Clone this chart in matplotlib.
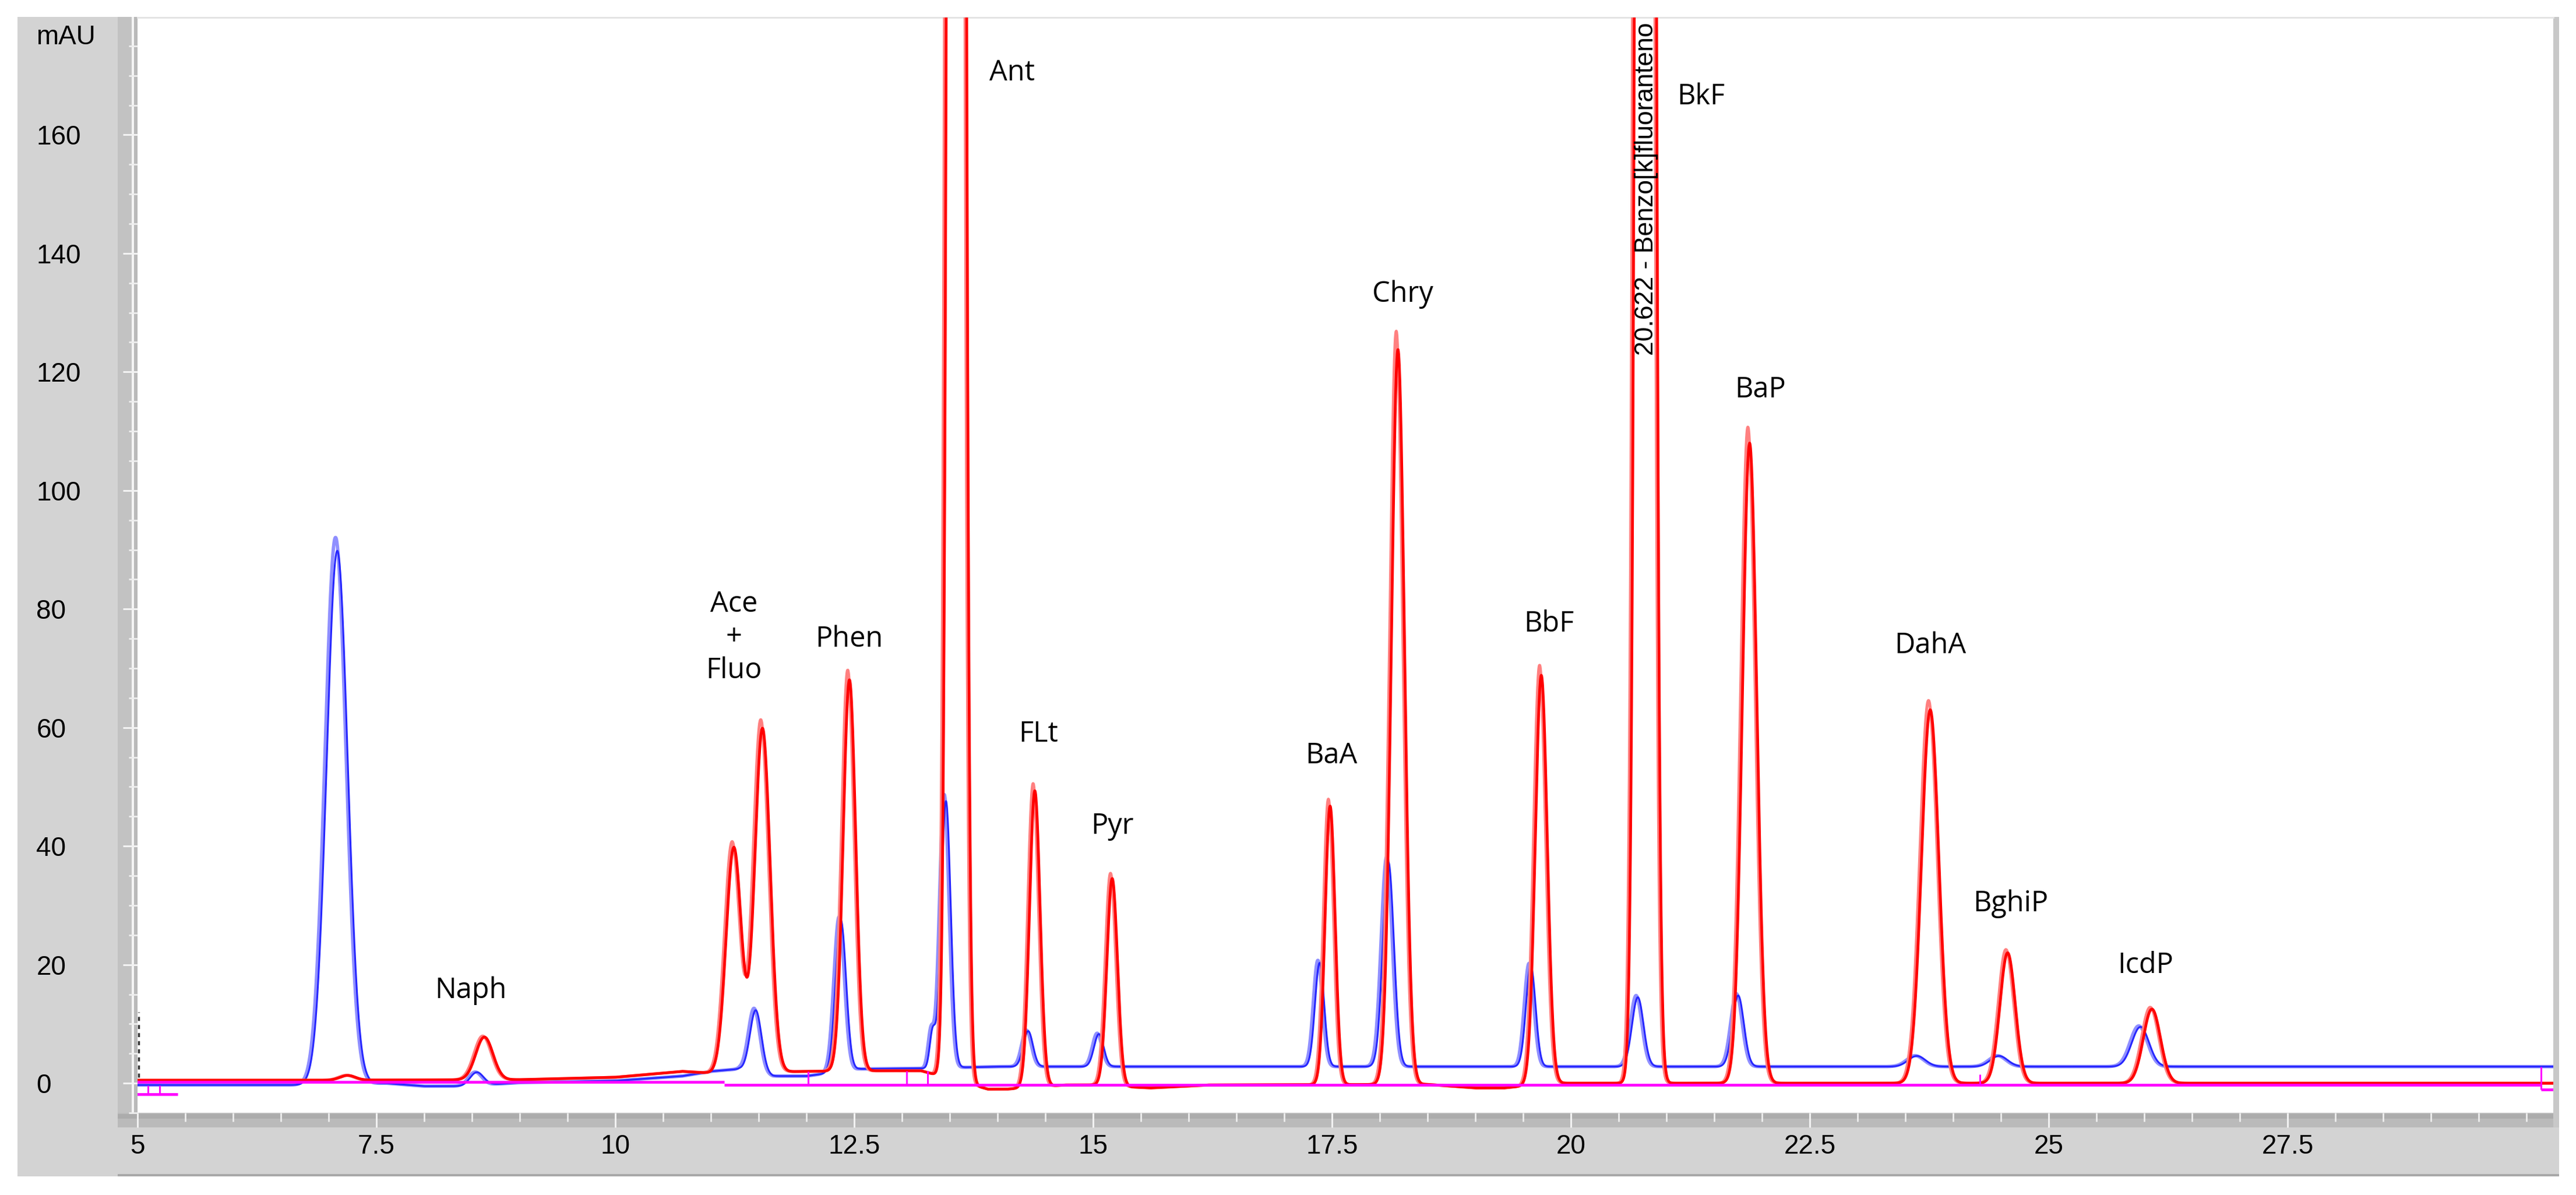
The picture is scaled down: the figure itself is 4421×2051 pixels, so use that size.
import numpy as np
import matplotlib
matplotlib.use("Agg")
import matplotlib.pyplot as plt
from matplotlib.patches import Rectangle
from matplotlib.ticker import MultipleLocator, FixedLocator, FixedFormatter

# ---------------- data ----------------
# red trace: retention time (min), height (mAU), width sigma (min)
red_rt = [7.20, 8.63, 11.24, 11.54, 12.45, 13.57, 14.39, 15.20, 17.48, 18.19,
          19.69, 20.78, 21.87, 23.76, 24.57, 26.08]
red_h = [0.8, 7.2, 38, 58, 66, 1200, 50, 35, 47, 124, 69, 1200, 108, 63, 22, 12.5]
red_w = [0.08, 0.09, 0.08, 0.08, 0.065, 0.055, 0.055, 0.055, 0.052, 0.068,
         0.062, 0.06, 0.075, 0.09, 0.08, 0.09]
red_base_t = [5.0, 6.8, 9.0, 10.0, 10.7, 11.0, 12.0, 12.8, 13.2, 13.9, 14.1, 14.7,
              15.0, 15.6, 16.2, 18.5, 19.0, 19.3, 19.8, 30.3]
red_base_v = [0.5, 0.5, 0.6, 1.0, 2.0, 1.7, 2.0, 2.1, 2.1, -1.0, -1.0, -0.3,
              -0.3, -0.8, -0.3, -0.2, -0.8, -0.8, 0.0, 0.0]
# second (lighter red) trace: same peaks, slightly earlier and a little taller
red2_shift = -0.018
red2_scale = 1.025

# blue trace
blue_rt = [7.09, 8.55, 11.47, 12.36, 13.32, 13.46, 14.32, 15.06, 17.37, 18.09,
           19.58, 20.70, 21.75, 23.62, 24.48, 25.96]
blue_h = [90, 2.2, 10.5, 25.5, 6, 45, 6, 5.5, 17.5, 34.5, 17, 11.7, 12, 1.8, 1.8, 6.7]
blue_w = [0.11, 0.07, 0.06, 0.055, 0.03, 0.05, 0.05, 0.05, 0.048, 0.058, 0.05,
          0.06, 0.06, 0.09, 0.09, 0.09]
blue_base_t = [5.0, 6.7, 7.6, 8.0, 8.4, 9.0, 10.0, 10.7, 11.0, 11.3, 11.65, 12.0,
               12.55, 13.2, 14.0, 30.3]
blue_base_v = [-0.3, -0.3, 0.0, -0.5, -0.5, 0.1, 0.4, 1.2, 2.0, 2.4, 1.2, 1.2,
               2.4, 2.5, 2.8, 2.8]
blue2_shift = -0.018
blue2_scale = 1.025

# integration baselines (magenta)
mag_x0 = [4.98, 4.98, 11.14, 30.15]
mag_x1 = [5.42, 11.14, 30.15, 30.28]
mag_y = [-1.9, 0.2, -0.3, -1.1]
mag_vx = [4.98, 5.11, 5.23, 12.02, 13.05, 13.27, 24.28, 30.15]
mag_vy0 = [-1.9, -1.9, -1.9, -0.3, -0.3, -0.3, -0.3, -1.1]
mag_vy1 = [-0.4, -0.4, -0.4, 2.0, 2.1, 2.1, 1.5, 2.8]

# peak labels
labels = ["Naph", "Ace\n+\nFluo", "Phen", "Ant", "FLt", "Pyr", "BaA", "Chry",
          "BbF", "BkF", "BaP", "DahA", "BghiP", "IcdP"]
label_x = [8.49, 11.24, 12.45, 14.15, 14.43, 15.20, 17.49, 18.24, 19.77, 21.36,
           21.98, 23.76, 24.60, 26.01]
label_y = [15.6, 75.2, 74.9, 170.4, 58.9, 43.3, 55.2, 133.1, 77.4, 166.4,
           117.0, 73.8, 30.3, 19.8]
vert_label = "20.622 - Benzo[k]fluoranteno"
vert_x, vert_y = 20.79, 122.8

x_ticks = [5, 7.5, 10, 12.5, 15, 17.5, 20, 22.5, 25, 27.5]
x_ticklabels = ["5", "7.5", "10", "12.5", "15", "17.5", "20", "22.5", "25", "27.5"]
y_ticks = [0, 20, 40, 60, 80, 100, 120, 140, 160]
y_ticklabels = ["0", "20", "40", "60", "80", "100", "120", "140", "160"]
y_unit = "mAU"

# ---------------- build traces ----------------
t = np.linspace(5.0, 30.28, 8000)


def trace(rt, h, w, bt, bv, shift=0.0, scale=1.0):
    y = np.interp(t, bt, bv)
    for c, a, s in zip(rt, h, w):
        y = y + scale * a * np.exp(-0.5 * ((t - c - shift) / s) ** 2)
    return y


red = trace(red_rt, red_h, red_w, red_base_t, red_base_v)
red2 = trace(red_rt, red_h, red_w, red_base_t, red_base_v, red2_shift, red2_scale)
blue = trace(blue_rt, blue_h, blue_w, blue_base_t, blue_base_v)
blue2 = trace(blue_rt, blue_h, blue_w, blue_base_t, blue_base_v, blue2_shift, blue2_scale)

# ---------------- figure ----------------
W, H = 4421, 2051
fig = plt.figure(figsize=(W / 100, H / 100), dpi=100)
fig.patch.set_facecolor("white")


def rect(x0, y0, x1, y1, color, z=-10):
    fig.patches.append(Rectangle((x0 / W, 1 - y1 / H), (x1 - x0) / W, (y1 - y0) / H,
                                 transform=fig.transFigure, facecolor=color,
                                 edgecolor="none", zorder=z))


rect(30, 29, 4392, 2019, "#d3d3d3")          # gray panel
rect(202, 2015, 4392, 2019, "#a8a8a8")       # bottom edge line
rect(202, 29, 236, 1935, "#c2c2c2")          # y tick strip
rect(226, 29, 230, 1935, "#f4f4f4")          # light line in strip
rect(230, 29, 236, 1935, "#b9b9b9")
rect(202, 1910, 4392, 1935, "#bababa")       # x tick strip
rect(202, 1912, 4392, 1920, "#acacac")
rect(4382, 29, 4392, 1935, "#c8c8c8")        # right strip

ax = fig.add_axes([236 / W, 1 - 1910 / H, (4382 - 236) / W, (1910 - 30) / H])
ax.set_zorder(5)
ax.set_facecolor("white")
for s in ax.spines.values():
    s.set_visible(False)
ax.axhline(179.8, color="#e4e4e4", lw=2, clip_on=False)

ax.set_xlim(5.0, 30.28)
ax.set_ylim(-5.0, 179.8)

# traces
ax.plot(t, blue2, color="#8f8fff", lw=4.2, zorder=2)
ax.plot(t, blue, color="#2626ff", lw=2.2, zorder=2.1)
ax.plot(t, red2, color="#ff8080", lw=3.6, zorder=3)
ax.plot(t, red, color="#ff0000", lw=3.4, zorder=3.1)
ax.hlines(mag_y, mag_x0, mag_x1, color="#ff00ff", lw=3.4, zorder=4)
ax.vlines(mag_vx, mag_vy0, mag_vy1, color="#ff00ff", lw=2.2, zorder=4)
ax.vlines([5.01], [1.0], [12.0], color="#333333", lw=2.5, linestyles=(0, (2, 2)),
          zorder=4, clip_on=False)

# labels
for s, x, y in zip(labels, label_x, label_y):
    ax.text(x, y, s, ha="center", va="center", fontsize=35, family="Open Sans",
            color="black", linespacing=1.2, zorder=5)
ax.text(vert_x, vert_y, vert_label, rotation=90, ha="center", va="bottom",
        fontsize=32, family=["Liberation Sans", "DejaVu Sans"], color="black",
        clip_on=True, zorder=5)

# ticks
ax.xaxis.set_major_locator(FixedLocator(x_ticks))
ax.xaxis.set_major_formatter(FixedFormatter(x_ticklabels))
ax.xaxis.set_minor_locator(MultipleLocator(0.5))
ax.yaxis.set_major_locator(FixedLocator(y_ticks))
ax.yaxis.set_major_formatter(FixedFormatter(y_ticklabels))
ax.yaxis.set_minor_locator(MultipleLocator(5))
ax.tick_params(which="major", direction="out", length=18, width=2.2, color="#f2f2f2")
ax.tick_params(which="minor", direction="out", length=11, width=2.0, color="#eeeeee")
ax.tick_params(axis="y", which="major", pad=107)
ax.tick_params(axis="x", which="major", pad=8)
for lab in ax.get_yticklabels():
    lab.set_horizontalalignment("left")
for lab in ax.get_xticklabels() + ax.get_yticklabels():
    lab.set_fontfamily(["Liberation Sans", "DejaVu Sans"])
    lab.set_fontsize(33)

fig.text(62 / W, 1 - 64 / H, y_unit, ha="left", va="center", fontsize=33,
         family=["Liberation Sans", "DejaVu Sans"])

fig.savefig("out.png", dpi=100, facecolor="white")
